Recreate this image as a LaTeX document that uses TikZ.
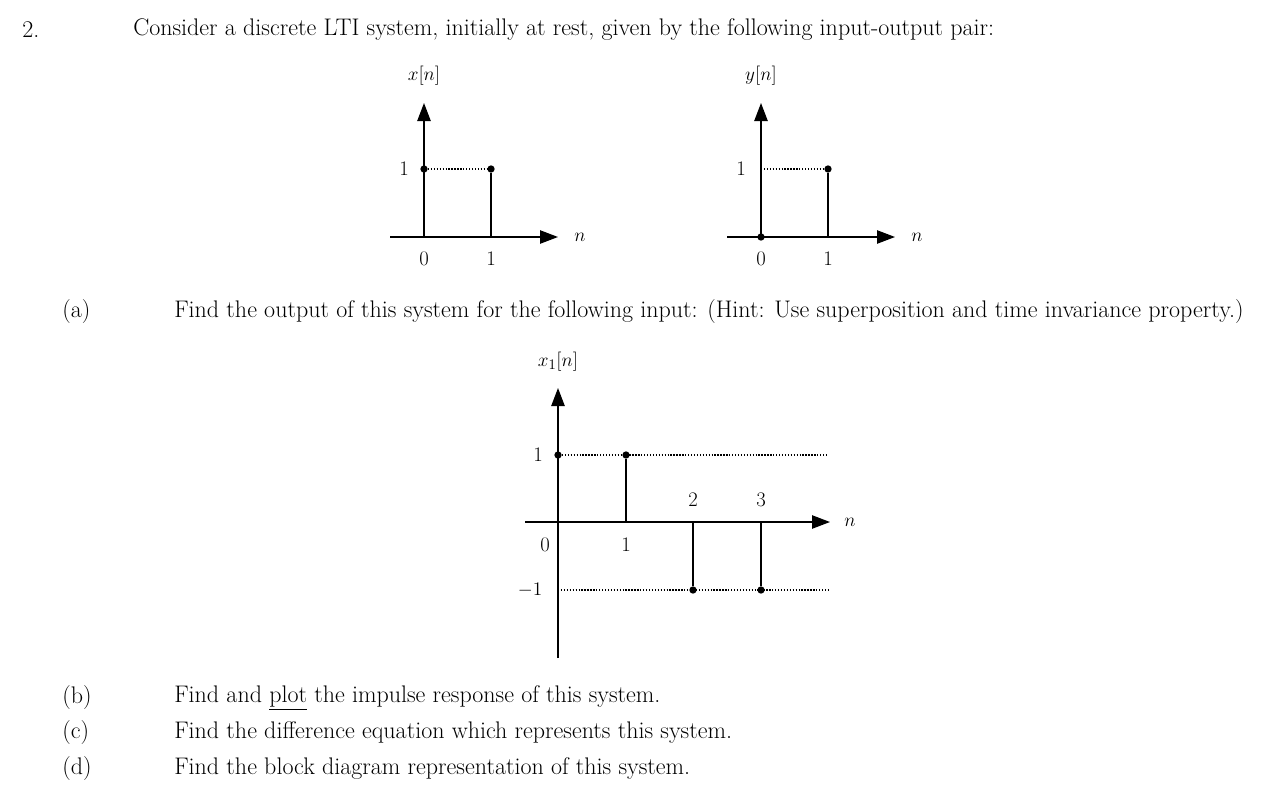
\documentclass[tikz,border=0pt]{standalone}
\usetikzlibrary{arrows.meta}
\begin{document}
\begin{tikzpicture}[x=0.75pt,y=-0.75pt,
  ax/.style={line width=1.4pt*0.75,-{Triangle[length=13.5pt,width=10pt]}},
  stem/.style={line width=1.4pt*0.75},
  dot/.style={circle,fill,inner sep=0pt,minimum size=5.5pt},
  dots/.style={dash pattern=on 1pt off 1.2pt,line width=0.9pt},
  lbl/.style={font=\fontsize{15.5}{18}\selectfont,inner sep=0pt},
  txt/.style={font=\fontsize{18}{21}\selectfont,anchor=west,inner sep=0pt}]
\useasboundingbox (0,0) rectangle (1285,796);
\node[txt] (q) at (22,30) {2.};
\node[txt] (t0) at (133,30) {Consider a discrete LTI system, initially at rest, given by the following input-output pair:};
% x[n]
\coordinate (xo) at (424,237);
\coordinate (xl) at (390,237); \coordinate (xr) at (558,237); \coordinate (xt) at (424,103);
\draw[ax] (xl) -- (xr); \draw[ax] (xo) -- (xt);
\node[dot] (x0) at (424,169) {}; \node[dot] (x1) at (491,169) {};
\coordinate (x1b) at (491,237);
\draw[stem] (x1b) -- (x1); \draw[dots] (x0) -- (x1);
\node[lbl] (xl0) at (424,259) {0}; \node[lbl] (xl1) at (491,259) {1};
\node[lbl] (xly) at (404,169) {1}; \node[lbl] (xn) at (580,237) {$n$};
\node[lbl] (xt1) at (424,76) {$x[n]$};
% y[n]
\coordinate (yo) at (761,237);
\coordinate (yl) at (727,237); \coordinate (yr) at (895,237); \coordinate (yt) at (761,103);
\draw[ax] (yl) -- (yr); \draw[ax] (yo) -- (yt);
\node[dot] (y0) at (761,237) {}; \node[dot] (y1) at (828,169) {};
\coordinate (y1b) at (828,237); \coordinate (y0t) at (761,169);
\draw[stem] (y1b) -- (y1); \draw[dots] (y0t) -- (y1);
\node[lbl] (yl0) at (761,259) {0}; \node[lbl] (yl1) at (828,259) {1};
\node[lbl] (yly) at (741,169) {1}; \node[lbl] (yn) at (917,237) {$n$};
\node[lbl] (yt1) at (761,76) {$y[n]$};
% (a)
\node[txt] (pa) at (62,312) {(a)};
\node[txt] (ta) at (174,312) {Find the output of this system for the following input: (Hint: Use superposition and time invariance property.)};
% x1[n]
\coordinate (zb) at (558,658); \coordinate (zt) at (558,388);
\coordinate (zl) at (525,522); \coordinate (zr) at (830,522);
\draw[ax] (zl) -- (zr); \draw[ax] (zb) -- (zt);
\node[dot] (z0) at (558,455) {}; \node[dot] (z1) at (626,455) {};
\node[dot] (z2) at (693,590) {}; \node[dot] (z3) at (761,590) {};
\coordinate (z1b) at (626,522); \coordinate (z2b) at (693,522); \coordinate (z3b) at (761,522);
\coordinate (zu) at (828,455); \coordinate (zm) at (558,590); \coordinate (zd) at (828,590);
\draw[stem] (z1b) -- (z1); \draw[stem] (z2b) -- (z2); \draw[stem] (z3b) -- (z3);
\draw[dots] (z0) -- (zu); \draw[dots] (zm) -- (zd);
\node[lbl] (zly) at (538,455) {1}; \node[lbl] (zl0) at (545,545) {0};
\node[lbl] (zl1) at (626,545) {1}; \node[lbl] (zl2) at (693,500) {2};
\node[lbl] (zl3) at (761,500) {3}; \node[lbl] (zlm) at (530,590) {$-1$};
\node[lbl] (zn) at (850,522) {$n$}; \node[lbl] (zt1) at (558,362) {$x_1[n]$};
% (b)-(d)
\node[txt] (pb) at (62,698) {(b)};
\node[txt] (tb) at (174,698) {Find and \underline{plot} the impulse response of this system.};
\node[txt] (pc) at (62,733) {(c)};
\node[txt] (tc) at (174,733) {Find the difference equation which represents this system.};
\node[txt] (pd) at (62,769) {(d)};
\node[txt] (td) at (174,769) {Find the block diagram representation of this system.};
\end{tikzpicture}
\end{document}
